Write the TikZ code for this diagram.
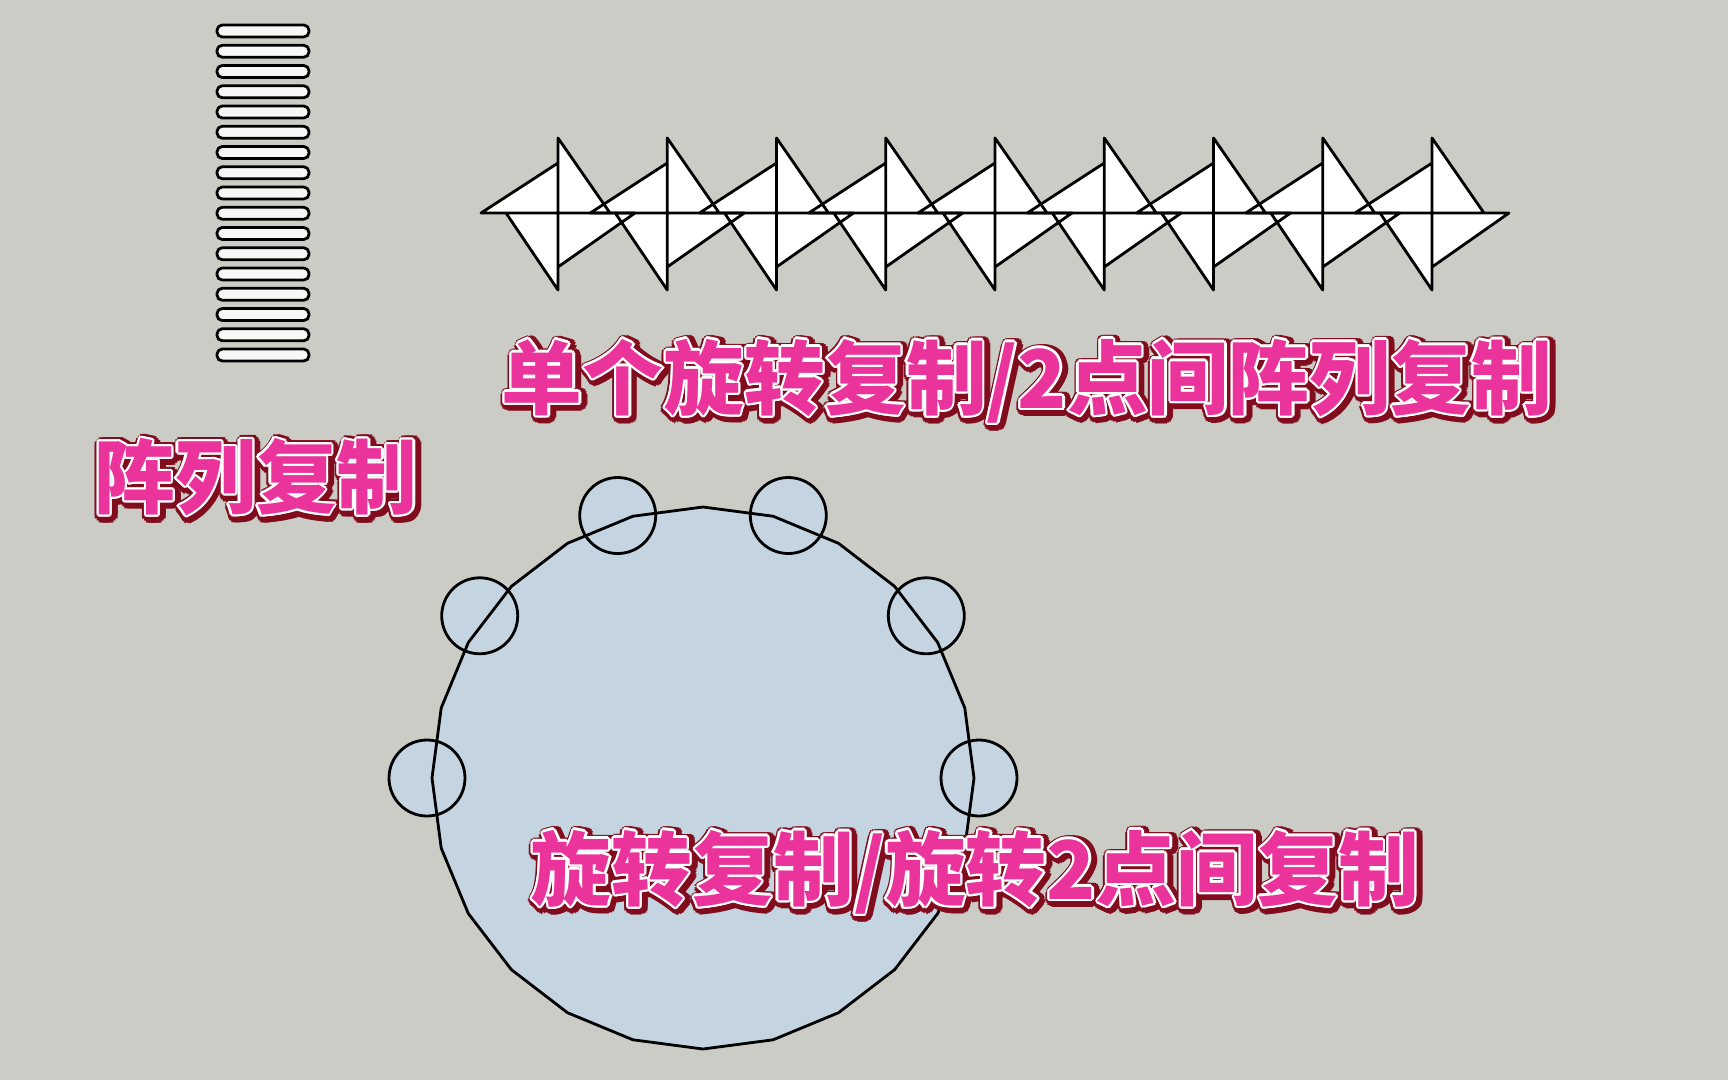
\documentclass[tikz,border=0pt]{standalone}
\usepackage{fontspec}
\newfontfamily\cjk{Noto Sans CJK SC}
\usetikzlibrary{calc}

\definecolor{bgray}{RGB}{204,204,199}
\definecolor{discblue}{RGB}{196,213,225}
\definecolor{txtpink}{RGB}{234,52,156}
\definecolor{txtdark}{RGB}{128,12,30}

% outlined title text: dark shadow, white rim, pink face
\newcommand\glowtxt[1]{%
  \foreach \r/\n in {3.5/16,1.8/8}{%
    \pgfmathsetmacro\st{360/\n}%
    \foreach \k in {1,...,\n}{%
      \pgfmathsetlengthmacro\dx{1.2pt+\r pt*cos(\k*\st)}%
      \pgfmathsetlengthmacro\dy{-1.2pt+\r pt*sin(\k*\st)}%
      \rlap{\hspace*{\dx}\raisebox{\dy}{\color{txtdark}#1}}}}%
  \foreach \a in {0,30,...,330}{%
    \pgfmathsetlengthmacro\dx{1.3pt*cos(\a)}%
    \pgfmathsetlengthmacro\dy{1.3pt*sin(\a)}%
    \rlap{\hspace*{\dx}\raisebox{\dy}{\color{white}#1}}}%
  {\color{txtpink}#1}}

\begin{document}
\begin{tikzpicture}[x=0.02cm,y=-0.02cm,
  lineblk/.style={line width=1.6pt,line join=round},
  titletext/.style={inner sep=0pt,font=\cjk\bfseries\fontsize{46}{52}\selectfont}]
  \fill[bgray] (0,0) rectangle (1728,1080);
  \useasboundingbox (0,0) rectangle (1728,1080);

  % array of bars
  \foreach \i in {0,...,16}
    \draw[lineblk,fill=white!94!gray,rounded corners=3pt]
      (217,{25+20.25*\i}) rectangle (309,{37+20.25*\i});

  % triangles copied between 2 points
  \foreach \i in {0,...,8}{
    \pgfmathsetmacro\v{558+109.25*\i}
    \fill[white] (\v,213) -- (\v,138) -- (\v+52,213) -- cycle
      (\v,213) -- (\v,290) -- (\v-52,213) -- cycle
      (\v,213) -- (\v-77,213) -- (\v,163) -- cycle
      (\v,213) -- (\v+77,213) -- (\v,267) -- cycle;
  }
  \foreach \i in {0,...,8}{
    \pgfmathsetmacro\v{558+109.25*\i}
    \draw[lineblk] (\v,213) -- (\v,138) -- (\v+52,213) -- cycle
      (\v,213) -- (\v,290) -- (\v-52,213) -- cycle
      (\v,213) -- (\v-77,213) -- (\v,163) -- cycle
      (\v,213) -- (\v+77,213) -- (\v,267) -- cycle;
  }

  % disc with rotated circles
  \begin{scope}[shift={(703,778)}]
    \fill[discblue] (0,-271) \foreach \a in {15,30,...,345}{ -- ({271*sin(\a)},{-271*cos(\a)}) } -- cycle;
    \foreach \a in {-90,-54,-18,18,54,90}
      \fill[discblue] ({276*sin(\a)},{-276*cos(\a)}) circle (38);
    \draw[lineblk] (0,-271) \foreach \a in {15,30,...,345}{ -- ({271*sin(\a)},{-271*cos(\a)}) } -- cycle;
    \foreach \a in {-90,-54,-18,18,54,90}
      \draw[lineblk] ({276*sin(\a)},{-276*cos(\a)}) circle (38);
  \end{scope}

  \node[titletext] (arraylbl) at (256,479) {\glowtxt{阵列复制}};
  \node[titletext] (pairlbl) at (1027,383) {\glowtxt{单个旋转复制/2点间阵列复制}};
  \node[titletext] (rotlbl) at (975,874) {\glowtxt{旋转复制/旋转2点间复制}};
\end{tikzpicture}
\end{document}
